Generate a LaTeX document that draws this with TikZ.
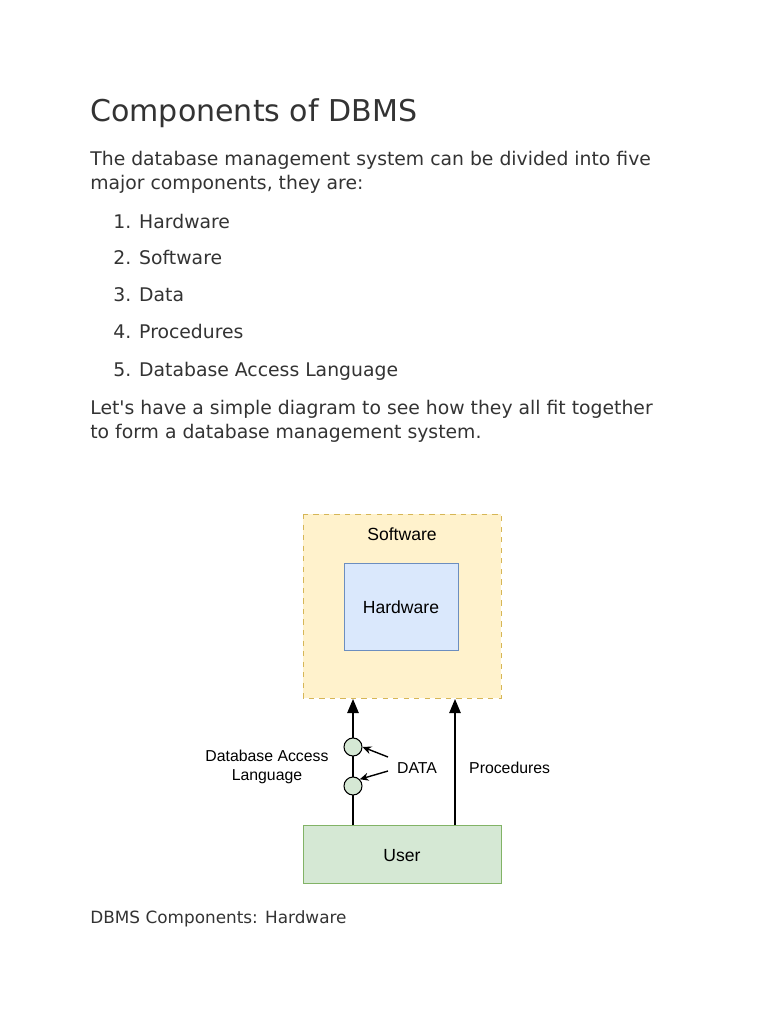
\documentclass[tikz,border=0pt]{standalone}
\usepackage{fontspec}
\setmainfont{DejaVu Sans}[Ligatures=TeXOff]
\newfontfamily\diafont{Liberation Sans}
\usetikzlibrary{arrows.meta}
\definecolor{txtgray}{HTML}{333333}
\definecolor{swfill}{HTML}{FFF2CC}
\definecolor{swdraw}{HTML}{D6B656}
\definecolor{hwfill}{HTML}{DAE8FC}
\definecolor{hwdraw}{HTML}{6C8EBF}
\definecolor{usfill}{HTML}{D5E8D4}
\definecolor{usdraw}{HTML}{82B366}
\tikzset{
    body/.style={anchor=base west, inner sep=0pt, text=txtgray, font=\fontsize{10.7}{12}\selectfont},
    dia/.style={font=\diafont\fontsize{10}{11.5}\selectfont},
    flow/.style={-{Triangle[length=8pt,width=6.5pt]}, thick},
    hint/.style={-{Stealth[length=5pt,width=4.5pt]}, thick}
}
\begin{document}
\begin{tikzpicture}[x=0.02cm,y=-0.02cm]
    \useasboundingbox (0,0) rectangle (768,1024);

    \node[body, font=\fontsize{17.1}{20}\selectfont] (title) at (90,122) {Components of DBMS};
    \node[body] (p1) at (90,165) {The database management system can be divided into five};
    \node[body] (p2) at (90,189) {major components, they are:};
    \node[body] (i1) at (113,228) {1. Hardware};
    \node[body] (i2) at (113,264) {2. Software};
    \node[body] (i3) at (113,301) {3. Data};
    \node[body] (i4) at (113,338) {4. Procedures};
    \node[body] (i5) at (113,376) {5. Database Access Language};
    \node[body] (p3) at (90,414) {Let's have a simple diagram to see how they all fit together};
    \node[body] (p4) at (90,438) {to form a database management system.};

    % diagram
    \draw[swdraw, fill=swfill, dashed] (303,514) rectangle (501,698);
    \node[dia] (sw) at (402,534) {Software};
    \draw[hwdraw, fill=hwfill] (344,563) rectangle (458,650);
    \node[dia] (hw) at (401,607) {Hardware};
    \draw[usdraw, fill=usfill] (303,825) rectangle (501,883);
    \node[dia] (user) at (402,856) {User};

    \coordinate (lbot) at (353,825);
    \coordinate (ltop) at (353,699);
    \coordinate (rbot) at (455,825);
    \coordinate (rtop) at (455,699);
    \draw[flow] (lbot) -- (ltop);
    \draw[flow] (rbot) -- (rtop);

    \node[circle, draw, semithick, fill=usfill, minimum size=18*0.02cm, inner sep=0pt] (c1) at (353,747) {};
    \node[circle, draw, semithick, fill=usfill, minimum size=18*0.02cm, inner sep=0pt] (c2) at (353,786) {};

    \node[dia, font=\diafont\fontsize{9}{11}\selectfont] (data) at (417,768) {DATA};
    \draw[hint] (388,757) -- (c1.east);
    \draw[hint] (388,771) -- (c2.north east);
    \node[dia, anchor=west, font=\diafont\fontsize{9}{11}\selectfont] (proc) at (463,768) {Procedures};
    \node[dia, align=center, font=\diafont\fontsize{9}{11}\selectfont] (dal) at (267,767) {Database Access\\Language};

    \node[body, font=\fontsize{9.6}{11}\selectfont] (cap) at (90,923) {DBMS Components: Hardware};
\end{tikzpicture}
\end{document}
